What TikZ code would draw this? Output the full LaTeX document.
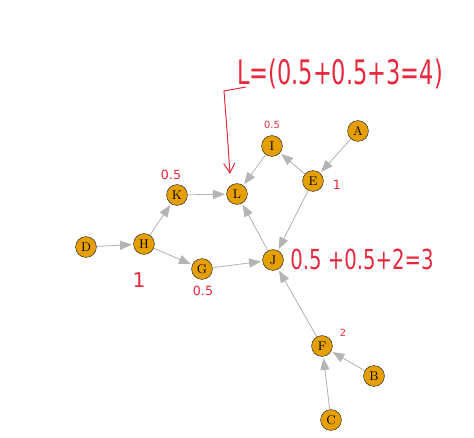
\documentclass[tikz,border=0pt]{standalone}
\usepackage{tikz}
\usepackage{xcolor}
\usepackage{fontspec}
\newfontfamily\handfont{DejaVu Sans}
\usetikzlibrary{arrows.meta}
\definecolor{vorange}{HTML}{E69F00}
\definecolor{vedge}{HTML}{B4B4B4}
\definecolor{handred}{HTML}{E8283C}
\tikzset{
  vtx/.style={circle,draw=black!80,fill=vorange,minimum size=0.52cm,inner sep=0pt,font=\small},
  edg/.style={draw=vedge,line width=0.6pt,-{Triangle[length=8.5pt,width=6.5pt]},shorten >=1pt},
  note/.style={text=handred,font=\handfont}
}
\begin{document}
\begin{tikzpicture}[x=0.025cm,y=-0.025cm]
            \useasboundingbox (0,0) rectangle (474,438);
            \node[vtx] (A) at (358,131) {A};
            \node[vtx] (I) at (272,146) {I};
            \node[vtx] (E) at (313,181) {E};
            \node[vtx] (K) at (177,195) {K};
            \node[vtx] (L) at (237,194) {L};
            \node[vtx] (D) at (86,247) {D};
            \node[vtx] (H) at (144,244) {H};
            \node[vtx] (G) at (202,269) {G};
            \node[vtx] (J) at (273,260) {J};
            \node[vtx] (F) at (322,346) {F};
            \node[vtx] (B) at (374,376) {B};
            \node[vtx] (C) at (331,420) {C};
            \draw[edg] (A) -- (E);
            \draw[edg] (E) -- (I);
            \draw[edg] (I) -- (L);
            \draw[edg] (K) -- (L);
            \draw[edg] (E) -- (J);
            \draw[edg] (J) -- (L);
            \draw[edg] (D) -- (H);
            \draw[edg] (H) -- (K);
            \draw[edg] (H) -- (G);
            \draw[edg] (G) -- (J);
            \draw[edg] (F) -- (J);
            \draw[edg] (B) -- (F);
            \draw[edg] (C) -- (F);
            \node[note,font=\handfont\fontsize{16}{16}\selectfont,yscale=1.5] (lsum) at (340,74) {L=(0.5+0.5+3=4)};
            \node[note,font=\handfont\scriptsize] (iw) at (272,125) {0.5};
            \node[note,font=\handfont\small] (ew) at (337,185) {1};
            \node[note,font=\handfont\small] (kw) at (171,175) {0.5};
            \node[note,font=\handfont\Large] (hw) at (139,280) {1};
            \node[note,font=\handfont\small] (gw) at (203,291) {0.5};
            \node[note,font=\handfont\fontsize{14}{14}\selectfont,yscale=1.4] (jsum) at (362,259) {0.5 +0.5+2=3};
            \node[note,font=\handfont\scriptsize] (fw) at (343,333) {2};
            \coordinate (start) at (246,87);
            \coordinate (tip) at (230,174);
            \draw[handred,line width=0.7pt,-{Straight Barb[length=7pt,width=8pt]}] (start) -- (224,91) -- (227,130) -- (tip);
\end{tikzpicture}
\end{document}
